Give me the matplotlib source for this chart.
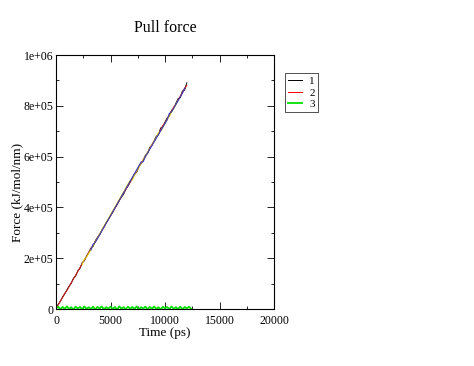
import matplotlib
matplotlib.use("Agg")
import matplotlib.pyplot as plt
from matplotlib.ticker import MultipleLocator, FuncFormatter

plt.rcParams['font.family'] = ['Liberation Serif', 'DejaVu Serif']

time1 = [0, 200, 400, 600, 800, 1000, 1200, 1400, 1600, 1800, 2000, 2200, 2400, 2600, 2800,
         3000, 3200, 3400, 3600, 3800, 4000, 4200, 4400, 4600, 4800, 5000, 5200, 5400, 5600,
         5800, 6000, 6200, 6400, 6600, 6800, 7000, 7200, 7400, 7600, 7800, 8000, 8200, 8400,
         8600, 8800, 9000, 9200, 9400, 9600, 9800, 10000, 10200, 10400, 10600, 10800, 11000,
         11200, 11400, 11600, 11800, 12000]
force1 = [5000, 18000, 30000, 47000, 60000, 75000, 90000, 101000, 121000, 130000, 150000,
          160000, 182000, 190000, 208000, 222000, 240000, 246000, 268000, 282000, 292000,
          310000, 322000, 340000, 352000, 368000, 380000, 398000, 410000, 428000, 440000,
          452000, 472000, 484000, 500000, 512000, 532000, 538000, 562000, 572000, 586000,
          605000, 612000, 636000, 644000, 662000, 680000, 686000, 712000, 718000, 736000,
          752000, 760000, 782000, 790000, 810000, 828000, 832000, 858000, 862000, 890000]
force2 = [3000, 16000, 31000, 45000, 61000, 73000, 88000, 104000, 118000, 133000, 147000,
          163000, 178000, 193000, 206000, 224000, 236000, 250000, 265000, 280000, 295000,
          308000, 325000, 338000, 354000, 366000, 383000, 396000, 412000, 426000, 442000,
          456000, 470000, 486000, 498000, 515000, 528000, 542000, 558000, 575000, 588000,
          600000, 617000, 630000, 648000, 660000, 675000, 690000, 706000, 722000, 733000,
          748000, 765000, 778000, 795000, 806000, 822000, 838000, 852000, 868000, 880000]

time4 = [3200, 3400, 3600, 7800, 8000, 8200, 10200, 10400, 10600, 11600, 11800]
force4 = [232000, 255000, 262000, 578000, 580000, 600000, 745000, 770000, 776000, 850000, 870000]
time5 = [2400, 2600, 2800, 6800, 7000, 7200, 9200, 9400, 9600, 11000, 11200]
force5 = [176000, 196000, 204000, 506000, 508000, 528000, 676000, 694000, 700000, 805000, 822000]

time3 = [0, 200, 400, 600, 800, 1000, 1200, 1400, 1600, 1800, 2000, 2200, 2400, 2600, 2800,
         3000, 3200, 3400, 3600, 3800, 4000, 4200, 4400, 4600, 4800, 5000, 5200, 5400, 5600,
         5800, 6000, 6200, 6400, 6600, 6800, 7000, 7200, 7400, 7600, 7800, 8000, 8200, 8400,
         8600, 8800, 9000, 9200, 9400, 9600, 9800, 10000, 10200, 10400, 10600, 10800, 11000,
         11200, 11400, 11600, 11800, 12000, 12200, 12400]
force3 = [2000, 9000, -1000, 8000, 1000, 10000, 0, 7000, -2000, 9000, 2000, 8000, -1000, 10000,
          1000, 7000, 0, 9000, -2000, 8000, 2000, 10000, -1000, 7000, 1000, 9000, 0, 8000, -2000,
          10000, 2000, 7000, -1000, 9000, 1000, 8000, 0, 10000, -2000, 7000, 2000, 9000, -1000,
          8000, 1000, 10000, 0, 7000, -2000, 9000, 2000, 8000, -1000, 10000, 1000, 7000, 0, 9000,
          -2000, 8000, 2000, 9000, 1000]

labels = ["1", "2", "3"]

fig = plt.figure(figsize=(4.74, 3.66), dpi=100)
ax = fig.add_axes([56/474, 1 - 309/366, 218/474, 254/366])

l1, = ax.plot(time1, force1, color='black', lw=0.7, label=labels[0])
l2, = ax.plot(time1, force2, color='red', lw=0.7, label=labels[1])
ax.plot(time5, force5, color='#f0e000', lw=0.8)
ax.plot(time4, force4, color='#3030d0', lw=0.8)
ax.plot(time1, force1, color='#555555', lw=0.4, alpha=0.6)
l3, = ax.plot(time3, force3, color='#00e000', lw=1.3, label=labels[2])

ax.set_xlim(0, 20000)
ax.set_ylim(0, 1e6)
ax.xaxis.set_major_locator(MultipleLocator(5000))
ax.xaxis.set_minor_locator(MultipleLocator(2500))
ax.yaxis.set_major_locator(MultipleLocator(200000))
ax.yaxis.set_minor_locator(MultipleLocator(100000))

def yfmt(v, pos):
    if v == 0:
        return "0"
    return "%.0e" % v
ax.yaxis.set_major_formatter(FuncFormatter(yfmt))
ax.xaxis.set_major_formatter(FuncFormatter(lambda v, p: "%d" % v))

ax.tick_params(which='both', direction='in', top=True, right=True, labelsize=8.5, width=0.6,
               colors='black')
ax.tick_params(axis='x', pad=4)
ax.tick_params(axis='y', pad=2)
ax.tick_params(which='major', length=5)
ax.tick_params(which='minor', length=2.5)
for s in ax.spines.values():
    s.set_linewidth(0.8)

ax.set_xlabel("Time (ps)", fontsize=9.5, labelpad=0)
ax.set_ylabel("Force (kJ/mol/nm)", fontsize=9.5)
ax.yaxis.set_label_coords((23 - 56) / 218, (309 - 192) / 254)
fig.text(165/474, 1 - 28/366, "Pull force", ha='center', va='center', fontsize=11.5)

leg = fig.legend(handles=[l1, l2, l3], loc='upper left', bbox_to_anchor=(285/474, 1 - 73/366),
                 fontsize=8, frameon=True, fancybox=False, edgecolor='black', handlelength=1.2,
                 handletextpad=0.7, borderpad=0.3, labelspacing=0.15, borderaxespad=0)
leg.get_frame().set_linewidth(0.6)

fig.savefig("out.png", dpi=100)
